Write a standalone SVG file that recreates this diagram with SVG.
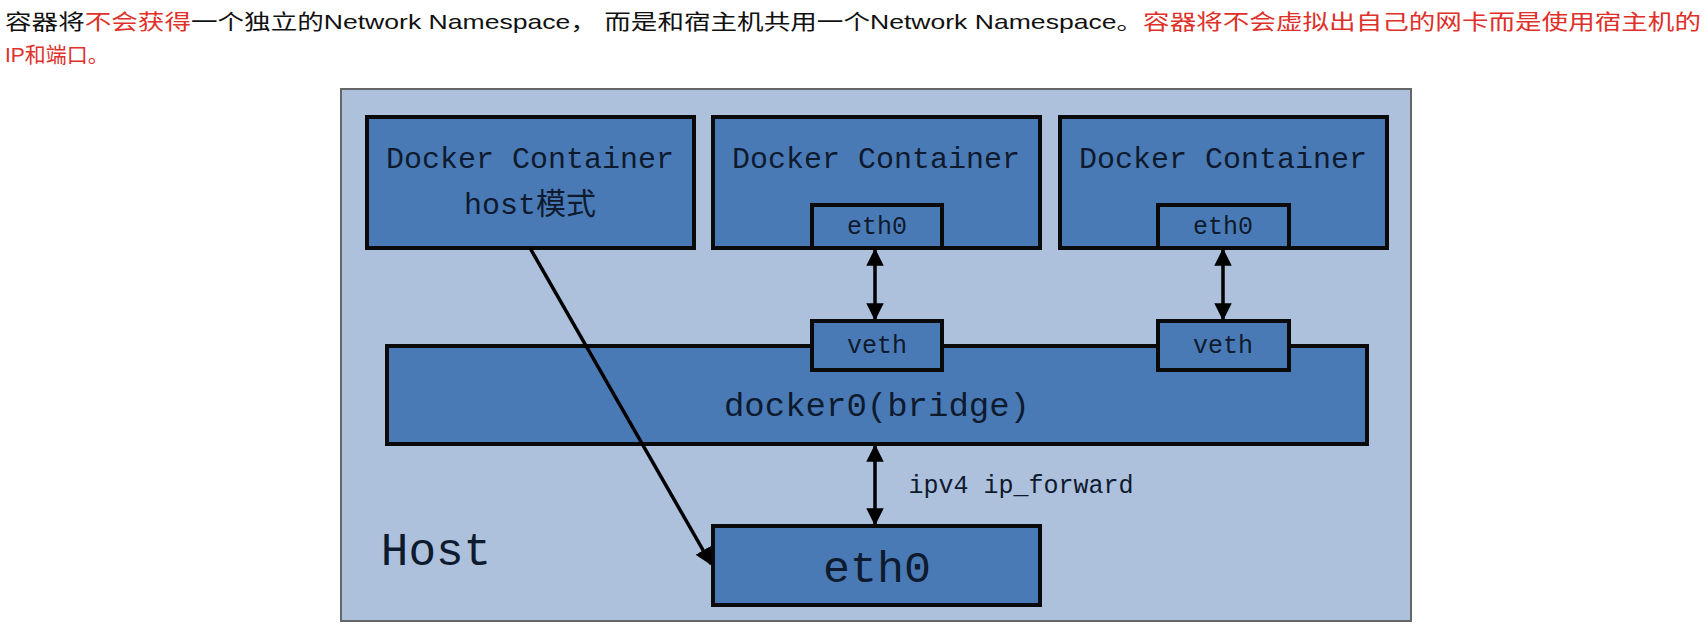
<svg xmlns="http://www.w3.org/2000/svg" width="1708" height="628" viewBox="0 0 1708 628">
<style>
.hdr{font-family:"Liberation Sans","Noto Sans CJK SC",sans-serif;font-size:21px;fill:#111}
.red{fill:#e0302a}
.box{fill:#4a7ab6;stroke:#0a0a0a;stroke-width:4}
.t{font-family:"Liberation Mono","Noto Sans CJK SC",monospace;fill:#0e1a2e;text-anchor:middle}
.ln{stroke:#000;stroke-width:3.5;fill:none}
</style>
<defs>
<marker id="ah" viewBox="0 0 10 10" refX="9" refY="5" markerWidth="5" markerHeight="5" orient="auto-start-reverse"><path d="M0,0L10,5L0,10z" fill="#000"/></marker>
</defs>
<rect width="1708" height="628" fill="#fff"/>
<text class="hdr" x="5" y="29" textLength="1696" lengthAdjust="spacingAndGlyphs">容器将<tspan class="red">不会获得</tspan>一个独立的Network Namespace，  而是和宿主机共用一个Network Namespace。<tspan class="red">容器将不会虚拟出自己的网卡而是使用宿主机的</tspan></text>
<text class="hdr red" x="5" y="62">IP和端口。</text>
<g id="host"><rect x="341" y="89" width="1070" height="532" fill="#adc0dc" stroke="#666" stroke-width="2"/>
<text class="t" x="436" y="565" font-size="46">Host</text></g>
<g id="c1"><rect class="box" x="367" y="117" width="327" height="131"/>
<text class="t" x="530" y="168" font-size="30">Docker Container</text>
<text class="t" x="530" y="214" font-size="30">host模式</text></g>
<g id="c2"><rect class="box" x="713" y="117" width="327" height="131"/>
<text class="t" x="876" y="168" font-size="30">Docker Container</text></g>
<g id="c3"><rect class="box" x="1060" y="117" width="327" height="131"/>
<text class="t" x="1223" y="168" font-size="30">Docker Container</text></g>
<g id="e2"><rect class="box" x="812" y="205" width="130" height="43"/><text class="t" x="877" y="234" font-size="25">eth0</text></g>
<g id="e3"><rect class="box" x="1158" y="205" width="131" height="43"/><text class="t" x="1223" y="234" font-size="25">eth0</text></g>
<g id="bridge"><rect class="box" x="387" y="346" width="980" height="98"/>
<text class="t" x="877" y="416" font-size="34">docker0(bridge)</text></g>
<g id="v2"><rect class="box" x="812" y="321" width="130" height="49"/><text class="t" x="877" y="353" font-size="25">veth</text></g>
<g id="v3"><rect class="box" x="1158" y="321" width="131" height="49"/><text class="t" x="1223" y="353" font-size="25">veth</text></g>
<g id="eth"><rect class="box" x="713" y="526" width="327" height="79"/>
<text class="t" x="877" y="582" font-size="45">eth0</text></g>
<g id="connectors">
<line class="ln" x1="875" y1="250" x2="875" y2="319" marker-start="url(#ah)" marker-end="url(#ah)"/>
<line class="ln" x1="1223" y1="250" x2="1223" y2="319" marker-start="url(#ah)" marker-end="url(#ah)"/>
<line class="ln" x1="875" y1="446" x2="875" y2="524" marker-start="url(#ah)" marker-end="url(#ah)"/>
<line class="ln" x1="530" y1="248" x2="711" y2="564" marker-end="url(#ah)"/>
<text class="t" x="1021" y="493" font-size="25">ipv4 ip_forward</text>
</g>
</svg>
